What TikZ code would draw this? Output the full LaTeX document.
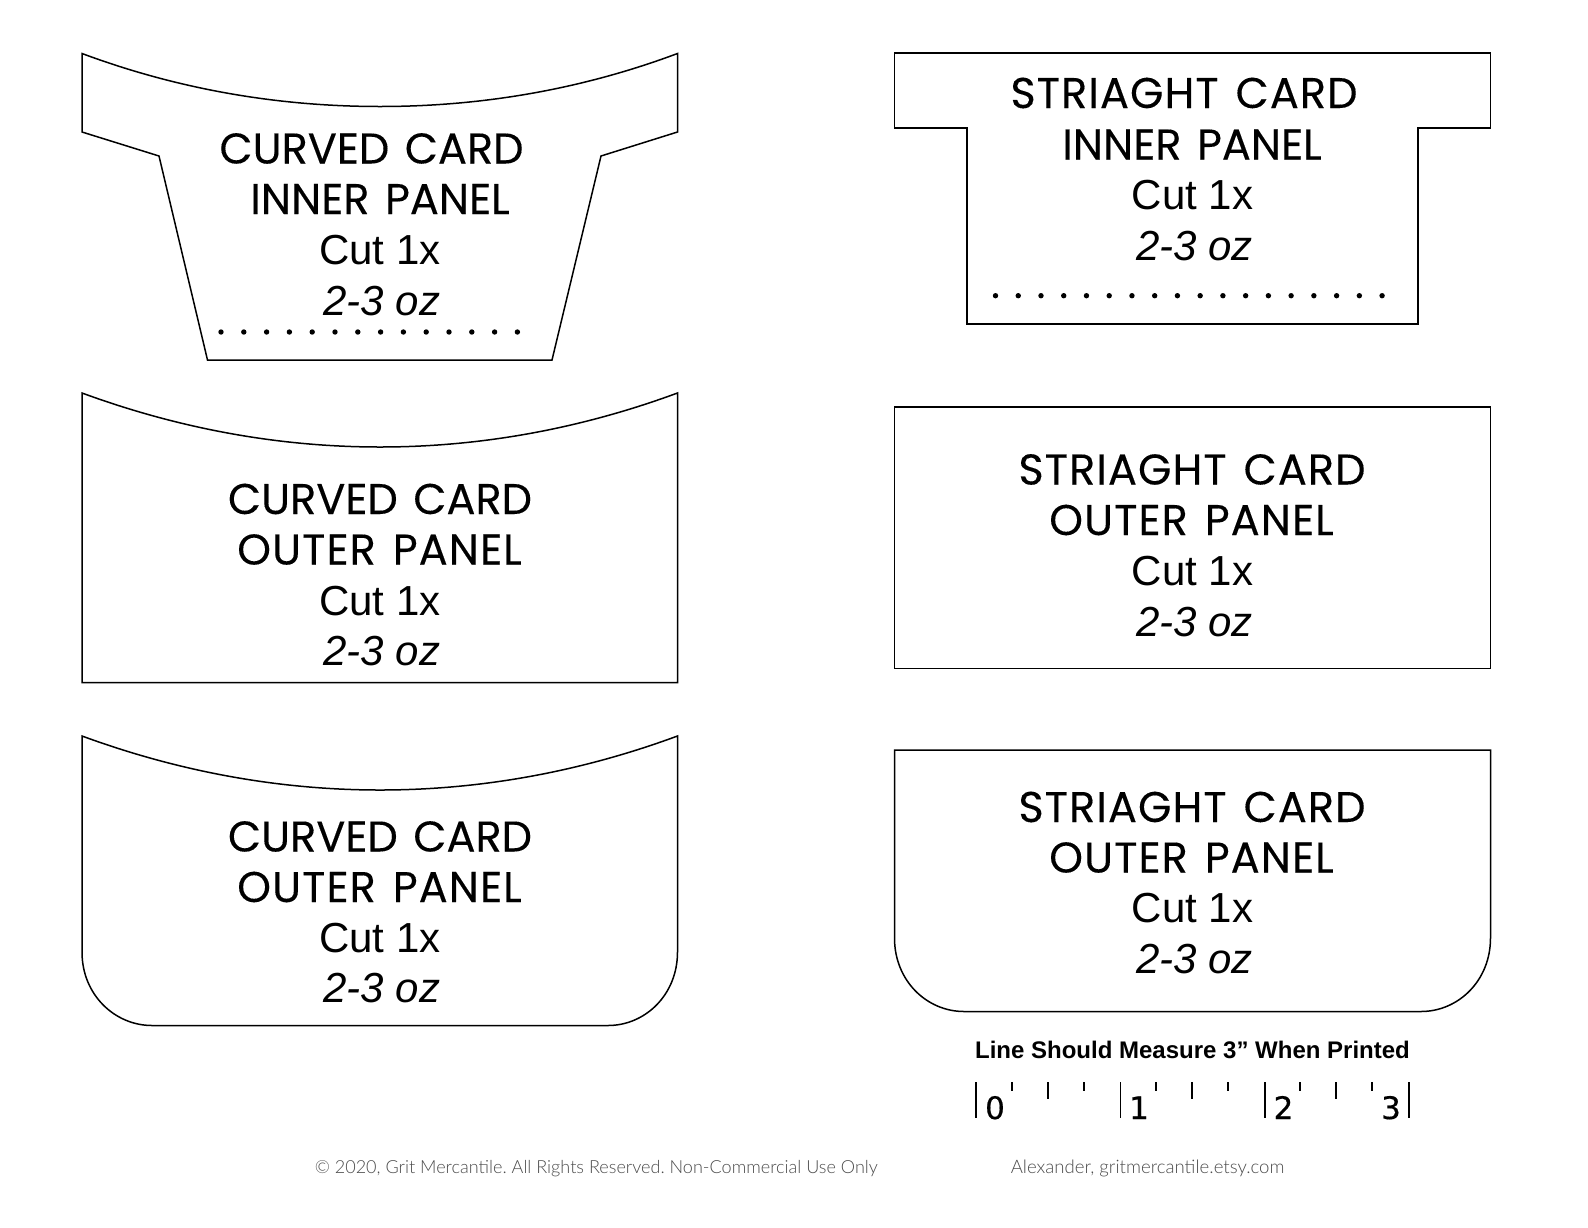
\documentclass[tikz,border=0pt]{standalone}
\usepackage{fontspec}
\setmainfont{Liberation Sans}
\newfontfamily\headfont[WordSpace=1.35,FakeBold=0.2]{Poppins}
\newfontfamily\wideheadfont[WordSpace=1.35,FakeBold=0.2,LetterSpace=2.5]{Poppins}
\newfontfamily\notefont{Lato Light}
\newfontfamily\digitfont[FakeBold=0.5]{DejaVu Sans}

\begin{document}
\begin{tikzpicture}[x=1pt,y=-1pt,line width=1.5pt]
        \tikzstyle{heading} = [anchor=base,inner sep=0pt,font=\headfont\fontsize{43}{50}\selectfont]
        \tikzstyle{wideheading} = [anchor=base,inner sep=0pt,font=\wideheadfont\fontsize{43}{50}\selectfont]
        \tikzstyle{cutnote} = [anchor=base,inner sep=0pt,font=\fontsize{42}{50}\selectfont]
        \tikzstyle{weight} = [anchor=base,inner sep=0pt,font=\itshape\fontsize{42}{50}\selectfont]
        \tikzstyle{digit} = [anchor=base,inner sep=0pt,font=\digitfont\fontsize{31}{36}\selectfont]
        \tikzstyle{footer} = [anchor=base west,inner sep=0pt,text=black!70,font=\notefont\frenchspacing\fontsize{18.6}{24}\selectfont]
        \tikzstyle{smallfooter} = [anchor=base west,inner sep=0pt,text=black!70,font=\notefont\frenchspacing\fontsize{18.05}{24}\selectfont]
        \tikzstyle{rule} = [line width=1.6pt]
        \useasboundingbox (0,0) rectangle (1588,1227);
        \fill[white] (0,0) rectangle (1588,1227);
        % First panel.
        \draw (82,53.5) .. controls (180,90) and (280,106.5) .. (380,106.5)
            .. controls (480,106.5) and (580,90) .. (677.5,53.5)
            -- (677.5,132) -- (601,156) -- (552,360) -- (207.5,360) -- (159,156) -- (82,132) -- cycle;
        \node[heading] (curved1) at (371.5,163.5) {CURVED CARD};
        \node[heading] (inner1) at (380,214) {INNER PANEL};
        \node[cutnote] (cut1) at (380,264) {Cut 1x};
        \node[weight] (oz1) at (382,315) {2-3 oz};
        \foreach \i in {0,...,13}
            \fill ({221+22.8*\i},332) circle (2.7pt);
        % Second panel.
        \draw (82,393) .. controls (180,429) and (280,447) .. (380,447)
            .. controls (480,447) and (580,429) .. (677.5,393)
            -- (677.5,682.5) -- (82,682.5) -- cycle;
        \node[heading] (curved2) at (380,514) {CURVED CARD};
        \node[wideheading] (outer2) at (379.5,564.5) {OUTER PANEL};
        \node[cutnote] (cut2) at (380,615) {Cut 1x};
        \node[weight] (oz2) at (382,665.5) {2-3 oz};
        % Third panel.
        \draw (82,736) .. controls (180,772) and (280,790) .. (380,790)
            .. controls (480,790) and (580,772) .. (677.5,736)
            -- (677.5,952) .. controls (677.5,995) and (645,1025.5) .. (608,1025.5)
            -- (152,1025.5) .. controls (115,1025.5) and (82,995) .. (82,952) -- cycle;
        \node[heading] (curved3) at (380,851.5) {CURVED CARD};
        \node[wideheading] (outer3) at (379.5,902) {OUTER PANEL};
        \node[cutnote] (cut3) at (380,952) {Cut 1x};
        \node[weight] (oz3) at (382,1002.5) {2-3 oz};
        % Fourth panel.
        \draw (894.5,53) -- (1490.5,53) -- (1490.5,128) -- (1418,128) -- (1418,324)
            -- (967,324) -- (967,128) -- (894.5,128) -- cycle;
        \node[wideheading] (straight4) at (1184,108) {STRIAGHT CARD};
        \node[heading] (inner4) at (1192,159.5) {INNER PANEL};
        \node[cutnote] (cut4) at (1192.5,209.5) {Cut 1x};
        \node[weight] (oz4) at (1194.5,260) {2-3 oz};
        \foreach \i in {0,...,17}
            \fill ({995.5+22.74*\i},295.7) circle (2.7pt);
        % Fifth panel.
        \draw (894.5,407) rectangle (1490.5,668.5);
        \node[wideheading] (straight5) at (1192,484.5) {STRIAGHT CARD};
        \node[wideheading] (outer5) at (1191.5,535) {OUTER PANEL};
        \node[cutnote] (cut5) at (1192.5,585.5) {Cut 1x};
        \node[weight] (oz5) at (1194.5,636) {2-3 oz};
        % Sixth panel.
        \draw (894.5,750) -- (1490.5,750) -- (1490.5,938)
            .. controls (1490.5,981) and (1458,1011.5) .. (1421,1011.5)
            -- (964,1011.5) .. controls (927,1011.5) and (894.5,981) .. (894.5,938) -- cycle;
        \node[wideheading] (straight6) at (1192,822) {STRIAGHT CARD};
        \node[wideheading] (outer6) at (1191.5,872.5) {OUTER PANEL};
        \node[cutnote] (cut6) at (1192.5,922.5) {Cut 1x};
        \node[weight] (oz6) at (1194.5,973.5) {2-3 oz};
        % Measuring line.
        \node[anchor=base,inner sep=0pt,font=\bfseries\fontsize{24}{28}\selectfont] (measure) at (1192.5,1058) {Line Should Measure 3” When Printed};
        \foreach \x in {976,1120.3,1264.7,1409}
            \draw[rule] (\x,1082) -- (\x,1117.5);
        \foreach \x in {1012,1084,1156,1228,1300,1372}
            \draw[rule] (\x,1082) -- (\x,1091);
        \foreach \x in {1048,1192,1336}
            \draw[rule] (\x,1082) -- (\x,1099);
        \node[digit] (d0) at (995,1119) {0};
        \node[digit] (d1) at (1139,1119) {1};
        \node[digit] (d2) at (1283.5,1119) {2};
        \node[digit] (d3) at (1391,1119) {3};
        % Footer.
        \node[smallfooter] (copyright) at (314,1173) {© 2020, Grit Mercantile. All Rights Reserved. Non-Commercial Use Only};
        \node[footer] (shop) at (1010,1173) {Alexander, gritmercantile.etsy.com};
\end{tikzpicture}
\end{document}
